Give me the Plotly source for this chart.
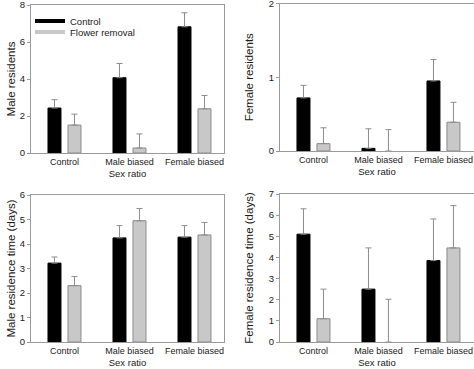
import plotly.graph_objects as go

categories = ["Control", "Male biased", "Female biased"]

male_res_ctrl = [2.43, 4.07, 6.82]
male_res_ctrl_err = [0.45, 0.77, 0.76]
male_res_fr = [1.51, 0.27, 2.39]
male_res_fr_err = [0.59, 0.76, 0.72]

fem_res_ctrl = [0.72, 0.036, 0.95]
fem_res_ctrl_err = [0.17, 0.265, 0.29]
fem_res_fr = [0.10, 0.0, 0.39]
fem_res_fr_err = [0.215, 0.29, 0.27]

male_time_ctrl = [3.22, 4.25, 4.28]
male_time_ctrl_err = [0.25, 0.50, 0.47]
male_time_fr = [2.30, 4.95, 4.37]
male_time_fr_err = [0.37, 0.50, 0.51]

fem_time_ctrl = [5.10, 2.50, 3.85]
fem_time_ctrl_err = [1.20, 1.95, 1.97]
fem_time_fr = [1.10, 0.0, 4.45]
fem_time_fr_err = [1.40, 2.02, 2.00]

panels = [
    ("x", "y", male_res_ctrl, male_res_ctrl_err, male_res_fr, male_res_fr_err),
    ("x2", "y2", fem_res_ctrl, fem_res_ctrl_err, fem_res_fr, fem_res_fr_err),
    ("x3", "y3", male_time_ctrl, male_time_ctrl_err, male_time_fr, male_time_fr_err),
    ("x4", "y4", fem_time_ctrl, fem_time_ctrl_err, fem_time_fr, fem_time_fr_err),
]

BLACK = "#000000"
GRAY = "#c8c8c8"
ERR = "#8c8c8c"
AX = "#9a9a9a"
TXT = "#1a1a1a"
FONT = "Liberation Sans, Arial, sans-serif"

fig = go.Figure()
for xa, ya, c, ce, f, fe in panels:
    fig.add_trace(go.Bar(x=categories, y=c, xaxis=xa, yaxis=ya, showlegend=False,
                         marker=dict(color=BLACK, line=dict(color=BLACK, width=1)),
                         error_y=dict(type="data", array=ce, arrayminus=[0]*len(ce), symmetric=False,
                                      color=ERR, thickness=1, width=3)))
    fig.add_trace(go.Bar(x=categories, y=f, xaxis=xa, yaxis=ya, showlegend=False,
                         marker=dict(color=GRAY, line=dict(color="#8a8a8a",
                                                           width=[1 if v > 0 else 0 for v in f])),
                         error_y=dict(type="data", array=fe, arrayminus=[0]*len(fe), symmetric=False,
                                      color=ERR, thickness=1, width=3)))

# legend entries (two legends so the rows can sit close together)
fig.add_trace(go.Scatter(x=[None], y=[None], mode="lines", name="Control", legend="legend",
                         line=dict(color=BLACK, width=4), xaxis="x", yaxis="y"))
fig.add_trace(go.Scatter(x=[None], y=[None], mode="lines", name="Flower removal", legend="legend2",
                         line=dict(color=GRAY, width=4), xaxis="x", yaxis="y"))

W, H = 474, 369

def xd(a, b):
    return [a / W, b / W]

def yd(top, bottom):
    return [1 - bottom / H, 1 - top / H]

xtickfont = dict(family=FONT, size=9, color=TXT)
ytickfont = dict(family=FONT, size=9.5, color=TXT)
xtitlefont = dict(family=FONT, size=9.5, color=TXT)
ytitlefont = dict(family=FONT, size=11.5, color=TXT)

def xaxis(dom, anchor, rng, mirror):
    return dict(domain=dom, anchor=anchor, type="category", range=rng, automargin=False,
                showline=True, linecolor=AX, linewidth=1, mirror=mirror,
                ticks="", showgrid=False, zeroline=False, tickfont=xtickfont,
                ticklabeloverflow="allow",
                title=dict(text="Sex ratio", font=xtitlefont, standoff=4))

def yaxis(dom, anchor, rng, dtick, title, mirror, standoff):
    return dict(domain=dom, anchor=anchor, range=rng, dtick=dtick, automargin=False,
                showline=True, linecolor=AX, linewidth=1, mirror=mirror,
                ticks="outside", ticklen=3, tickcolor=AX, showgrid=False, zeroline=False,
                ticklabeloverflow="allow",
                tickfont=ytickfont, title=dict(text=title, font=ytitlefont, standoff=standoff))

legfont = dict(family=FONT, size=9.5, color=TXT)

fig.update_layout(
    width=W, height=H,
    margin=dict(l=0, r=0, t=0, b=0),
    paper_bgcolor="white", plot_bgcolor="white",
    barmode="group", bargap=0.385, bargroupgap=0.35,
    font=dict(family=FONT, color=TXT),
    xaxis=xaxis(xd(31, 224), "y", [-0.515, 2.454], True),
    yaxis=yaxis(yd(5, 153), "x", [0, 8], 2, "Male residents", True, 1),
    xaxis2=xaxis(xd(280, 474), "y2", [-0.515, 2.47], True),
    yaxis2=yaxis(yd(3.5, 151), "x2", [0, 2], 1, "Female residents", False, 12),
    xaxis3=xaxis(xd(31, 224), "y3", [-0.515, 2.454], True),
    yaxis3=yaxis(yd(195, 342), "x3", [0, 6], 1, "Male residence time (days)", True, 1),
    xaxis4=xaxis(xd(280, 474), "y4", [-0.515, 2.47], True),
    yaxis4=yaxis(yd(194, 342), "x4", [0, 7], 1, "Female residence time (days)", False, 12),
    legend=dict(x=30 / W, y=1 - 21 / H, xanchor="left", yanchor="middle",
                bgcolor="rgba(0,0,0,0)", font=legfont, itemwidth=30),
    legend2=dict(x=30 / W, y=1 - 32 / H, xanchor="left", yanchor="middle",
                 bgcolor="rgba(0,0,0,0)", font=legfont, itemwidth=30),
)

fig.write_html("out.html", config={"displayModeBar": False},
               post_script="document.body.style.margin='0';")
